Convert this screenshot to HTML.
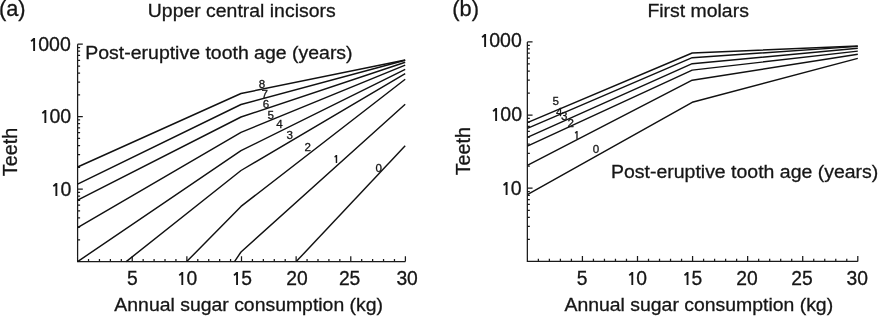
<!DOCTYPE html>
<html><head><meta charset="utf-8"><style>
html,body{margin:0;padding:0;background:#fff;overflow:hidden;width:878px;height:317px;}
svg{display:block;}
text{font-family:"Liberation Sans", Arial, Helvetica, sans-serif;}
</style></head><body>
<svg width="878" height="317" viewBox="0 0 878 317">
<rect width="878" height="317" fill="#fff"/>
<path d="M77.60,44.20V261.60H405.40 M88.53,261.60v-2.6 M99.45,261.60v-2.6 M110.38,261.60v-2.6 M121.31,261.60v-2.6 M132.23,261.60v-5.4 M143.16,261.60v-2.6 M154.09,261.60v-2.6 M165.01,261.60v-2.6 M175.94,261.60v-2.6 M186.87,261.60v-5.4 M197.79,261.60v-2.6 M208.72,261.60v-2.6 M219.65,261.60v-2.6 M230.57,261.60v-2.6 M241.50,261.60v-5.4 M252.43,261.60v-2.6 M263.35,261.60v-2.6 M274.28,261.60v-2.6 M285.21,261.60v-2.6 M296.13,261.60v-5.4 M307.06,261.60v-2.6 M317.99,261.60v-2.6 M328.91,261.60v-2.6 M339.84,261.60v-2.6 M350.77,261.60v-5.4 M361.69,261.60v-2.6 M372.62,261.60v-2.6 M383.55,261.60v-2.6 M394.47,261.60v-2.6 M405.40,261.60v-5.4 M77.60,239.79h2.5 M77.60,227.02h2.5 M77.60,217.97h2.5 M77.60,210.95h2.5 M77.60,205.21h2.5 M77.60,200.36h2.5 M77.60,196.16h2.5 M77.60,192.45h2.5 M77.60,189.13h5.2 M77.60,167.32h2.5 M77.60,154.56h2.5 M77.60,145.50h2.5 M77.60,138.48h2.5 M77.60,132.74h2.5 M77.60,127.89h2.5 M77.60,123.69h2.5 M77.60,119.98h2.5 M77.60,116.67h5.2 M77.60,94.85h2.5 M77.60,82.09h2.5 M77.60,73.04h2.5 M77.60,66.01h2.5 M77.60,60.28h2.5 M77.60,55.43h2.5 M77.60,51.22h2.5 M77.60,47.52h2.5 M77.60,44.20h5.2" stroke="#1a1a1a" stroke-width="1.25" fill="none"/>
<path d="M77.60,167.00 L241.00,93.50 L405.20,60.00" stroke="#111" stroke-width="1.45" fill="none" stroke-linejoin="round"/>
<path d="M77.60,184.20 L241.00,104.50 L405.20,60.30" stroke="#111" stroke-width="1.45" fill="none" stroke-linejoin="round"/>
<path d="M77.60,200.10 L241.00,117.00 L405.20,62.30" stroke="#111" stroke-width="1.45" fill="none" stroke-linejoin="round"/>
<path d="M77.60,227.70 L241.00,132.40 L405.20,65.20" stroke="#111" stroke-width="1.45" fill="none" stroke-linejoin="round"/>
<path d="M77.60,261.60 L241.00,150.70 L405.20,69.40" stroke="#111" stroke-width="1.45" fill="none" stroke-linejoin="round"/>
<path d="M126.20,261.60 L241.00,170.50 L405.20,73.60" stroke="#111" stroke-width="1.45" fill="none" stroke-linejoin="round"/>
<path d="M186.70,261.60 L241.00,206.40 L405.20,79.30" stroke="#111" stroke-width="1.45" fill="none" stroke-linejoin="round"/>
<path d="M234.50,261.60 L241.00,252.00 L405.20,104.30" stroke="#111" stroke-width="1.45" fill="none" stroke-linejoin="round"/>
<path d="M296.20,261.60 L405.20,145.70" stroke="#111" stroke-width="1.45" fill="none" stroke-linejoin="round"/>
<path d="M527.35,41.90V261.40H857.80 M538.37,261.40v-2.6 M549.38,261.40v-2.6 M560.39,261.40v-2.6 M571.41,261.40v-2.6 M582.42,261.40v-5.4 M593.44,261.40v-2.6 M604.46,261.40v-2.6 M615.47,261.40v-2.6 M626.49,261.40v-2.6 M637.50,261.40v-5.4 M648.51,261.40v-2.6 M659.53,261.40v-2.6 M670.54,261.40v-2.6 M681.56,261.40v-2.6 M692.58,261.40v-5.4 M703.59,261.40v-2.6 M714.61,261.40v-2.6 M725.62,261.40v-2.6 M736.63,261.40v-2.6 M747.65,261.40v-5.4 M758.66,261.40v-2.6 M769.68,261.40v-2.6 M780.69,261.40v-2.6 M791.71,261.40v-2.6 M802.72,261.40v-5.4 M813.74,261.40v-2.6 M824.75,261.40v-2.6 M835.77,261.40v-2.6 M846.78,261.40v-2.6 M857.80,261.40v-5.4 M527.35,239.37h2.5 M527.35,226.49h2.5 M527.35,217.35h2.5 M527.35,210.26h2.5 M527.35,204.47h2.5 M527.35,199.57h2.5 M527.35,195.32h2.5 M527.35,191.58h2.5 M527.35,188.23h5.2 M527.35,166.21h2.5 M527.35,153.32h2.5 M527.35,144.18h2.5 M527.35,137.09h2.5 M527.35,131.30h2.5 M527.35,126.40h2.5 M527.35,122.16h2.5 M527.35,118.41h2.5 M527.35,115.07h5.2 M527.35,93.04h2.5 M527.35,80.16h2.5 M527.35,71.02h2.5 M527.35,63.93h2.5 M527.35,58.13h2.5 M527.35,53.23h2.5 M527.35,48.99h2.5 M527.35,45.25h2.5 M527.35,41.90h5.2" stroke="#1a1a1a" stroke-width="1.25" fill="none"/>
<path d="M527.35,122.60 L692.20,53.00 L857.80,46.00" stroke="#111" stroke-width="1.45" fill="none" stroke-linejoin="round"/>
<path d="M527.35,128.30 L692.20,57.70 L857.80,46.40" stroke="#111" stroke-width="1.45" fill="none" stroke-linejoin="round"/>
<path d="M527.35,137.30 L692.20,63.70 L857.80,48.20" stroke="#111" stroke-width="1.45" fill="none" stroke-linejoin="round"/>
<path d="M527.35,146.20 L692.20,70.10 L857.80,51.10" stroke="#111" stroke-width="1.45" fill="none" stroke-linejoin="round"/>
<path d="M527.35,165.30 L692.20,80.20 L857.80,54.30" stroke="#111" stroke-width="1.45" fill="none" stroke-linejoin="round"/>
<path d="M527.35,194.60 L692.20,102.30 L857.80,58.40" stroke="#111" stroke-width="1.45" fill="none" stroke-linejoin="round"/>
<text transform="translate(-1.09,15.90) scale(1.0,1.0)" font-size="21.8" fill="#161616" stroke="#161616" stroke-width="0.3">(a)</text>
<text transform="translate(452.25,15.90) scale(1.0,1.0)" font-size="21.8" fill="#161616" stroke="#161616" stroke-width="0.3">(b)</text>
<text transform="translate(147.80,16.90) scale(1.01,1.0)" font-size="19.25" fill="#161616" stroke="#161616" stroke-width="0.3">Upper central incisors</text>
<text transform="translate(647.41,16.90) scale(1.01,1.0)" font-size="19.25" fill="#161616" stroke="#161616" stroke-width="0.3">First molars</text>
<text transform="translate(85.30,59.00) scale(1.053,1.0)" font-size="18.5" fill="#161616" stroke="#161616" stroke-width="0.3">Post-eruptive tooth age (years)</text>
<text transform="translate(611.00,177.80) scale(1.053,1.0)" font-size="18.5" fill="#161616" stroke="#161616" stroke-width="0.3">Post-eruptive tooth age (years)</text>
<text transform="translate(114.36,310.70) scale(1.022,1.0)" font-size="19.0" fill="#161616" stroke="#161616" stroke-width="0.3">Annual sugar consumption (kg)</text>
<text transform="translate(564.46,310.50) scale(1.022,1.0)" font-size="19.0" fill="#161616" stroke="#161616" stroke-width="0.3">Annual sugar consumption (kg)</text>
<text transform="translate(17.20,176.24) rotate(-90) scale(1.0,1)" font-size="19.8" fill="#161616" stroke="#161616" stroke-width="0.3">Teeth</text>
<text transform="translate(470.10,175.34) rotate(-90) scale(1.0,1)" font-size="19.8" fill="#161616" stroke="#161616" stroke-width="0.3">Teeth</text>
<text transform="translate(27.33,50.65) scale(1.0,1.0)" font-size="19.5" fill="#161616" stroke="#161616" stroke-width="0.3"><tspan font-family="NanumGothic, 'Liberation Sans', sans-serif" font-weight="bold" stroke-width="0.00" font-size="17.98" dx="0.88">1</tspan><tspan dx="-0.88">0</tspan>00</text>
<text transform="translate(38.58,123.45) scale(1.0,1.0)" font-size="19.5" fill="#161616" stroke="#161616" stroke-width="0.3"><tspan font-family="NanumGothic, 'Liberation Sans', sans-serif" font-weight="bold" stroke-width="0.00" font-size="17.98" dx="0.88">1</tspan><tspan dx="-0.88">0</tspan>0</text>
<text transform="translate(49.62,195.90) scale(1.0,1.0)" font-size="19.5" fill="#161616" stroke="#161616" stroke-width="0.3"><tspan font-family="NanumGothic, 'Liberation Sans', sans-serif" font-weight="bold" stroke-width="0.00" font-size="17.98" dx="0.88">1</tspan><tspan dx="-0.88">0</tspan></text>
<text transform="translate(478.33,46.75) scale(1.0,1.0)" font-size="19.5" fill="#161616" stroke="#161616" stroke-width="0.3"><tspan font-family="NanumGothic, 'Liberation Sans', sans-serif" font-weight="bold" stroke-width="0.00" font-size="17.98" dx="0.88">1</tspan><tspan dx="-0.88">0</tspan>00</text>
<text transform="translate(489.48,120.75) scale(1.0,1.0)" font-size="19.5" fill="#161616" stroke="#161616" stroke-width="0.3"><tspan font-family="NanumGothic, 'Liberation Sans', sans-serif" font-weight="bold" stroke-width="0.00" font-size="17.98" dx="0.88">1</tspan><tspan dx="-0.88">0</tspan>0</text>
<text transform="translate(499.92,194.80) scale(1.0,1.0)" font-size="19.5" fill="#161616" stroke="#161616" stroke-width="0.3"><tspan font-family="NanumGothic, 'Liberation Sans', sans-serif" font-weight="bold" stroke-width="0.00" font-size="17.98" dx="0.88">1</tspan><tspan dx="-0.88">0</tspan></text>
<text transform="translate(126.95,285.20) scale(1.0,1.0)" font-size="19.3" fill="#161616" stroke="#161616" stroke-width="0.3">5</text>
<text transform="translate(576.75,285.10) scale(1.0,1.0)" font-size="19.3" fill="#161616" stroke="#161616" stroke-width="0.3">5</text>
<text transform="translate(175.64,285.20) scale(1.0,1.0)" font-size="19.3" fill="#161616" stroke="#161616" stroke-width="0.3"><tspan font-family="NanumGothic, 'Liberation Sans', sans-serif" font-weight="bold" stroke-width="0.00" font-size="17.79" dx="0.87">1</tspan><tspan dx="-0.87">0</tspan></text>
<text transform="translate(625.54,285.10) scale(1.0,1.0)" font-size="19.3" fill="#161616" stroke="#161616" stroke-width="0.3"><tspan font-family="NanumGothic, 'Liberation Sans', sans-serif" font-weight="bold" stroke-width="0.00" font-size="17.79" dx="0.87">1</tspan><tspan dx="-0.87">0</tspan></text>
<text transform="translate(230.47,285.20) scale(1.0,1.0)" font-size="19.3" fill="#161616" stroke="#161616" stroke-width="0.3"><tspan font-family="NanumGothic, 'Liberation Sans', sans-serif" font-weight="bold" stroke-width="0.00" font-size="17.79" dx="0.87">1</tspan><tspan dx="-0.87">5</tspan></text>
<text transform="translate(680.77,285.10) scale(1.0,1.0)" font-size="19.3" fill="#161616" stroke="#161616" stroke-width="0.3"><tspan font-family="NanumGothic, 'Liberation Sans', sans-serif" font-weight="bold" stroke-width="0.00" font-size="17.79" dx="0.87">1</tspan><tspan dx="-0.87">5</tspan></text>
<text transform="translate(286.16,285.20) scale(1.0,1.0)" font-size="19.3" fill="#161616" stroke="#161616" stroke-width="0.3">20</text>
<text transform="translate(736.26,285.10) scale(1.0,1.0)" font-size="19.3" fill="#161616" stroke="#161616" stroke-width="0.3">20</text>
<text transform="translate(338.89,285.20) scale(1.0,1.0)" font-size="19.3" fill="#161616" stroke="#161616" stroke-width="0.3">25</text>
<text transform="translate(791.29,285.10) scale(1.0,1.0)" font-size="19.3" fill="#161616" stroke="#161616" stroke-width="0.3">25</text>
<text transform="translate(396.38,285.20) scale(1.0,1.0)" font-size="19.3" fill="#161616" stroke="#161616" stroke-width="0.3">30</text>
<text transform="translate(846.58,285.10) scale(1.0,1.0)" font-size="19.3" fill="#161616" stroke="#161616" stroke-width="0.3">30</text>
<text transform="translate(258.70,87.60) scale(1.0,1.0)" font-size="11.6" fill="#161616" stroke="#161616" stroke-width="0.3">8</text>
<text transform="translate(261.41,98.20) scale(1.0,1.0)" font-size="11.6" fill="#161616" stroke="#161616" stroke-width="0.3">7</text>
<text transform="translate(262.81,107.80) scale(1.0,1.0)" font-size="11.6" fill="#161616" stroke="#161616" stroke-width="0.3">6</text>
<text transform="translate(267.44,118.90) scale(1.0,1.0)" font-size="11.6" fill="#161616" stroke="#161616" stroke-width="0.3">5</text>
<text transform="translate(276.23,127.70) scale(1.0,1.0)" font-size="11.6" fill="#161616" stroke="#161616" stroke-width="0.3">4</text>
<text transform="translate(286.56,138.80) scale(1.0,1.0)" font-size="11.6" fill="#161616" stroke="#161616" stroke-width="0.3">3</text>
<text transform="translate(304.62,150.90) scale(1.0,1.0)" font-size="11.6" fill="#161616" stroke="#161616" stroke-width="0.3">2</text>
<text transform="translate(332.50,162.80) scale(1.0,1.0)" font-size="11.6" fill="#161616" stroke="#161616" stroke-width="0.3"><tspan font-family="NanumGothic, 'Liberation Sans', sans-serif" font-weight="bold" stroke-width="0.20" font-size="10.70" dx="0.52">1</tspan></text>
<text transform="translate(375.55,171.60) scale(1.0,1.0)" font-size="11.6" fill="#161616" stroke="#161616" stroke-width="0.3">0</text>
<text transform="translate(552.44,105.20) scale(1.0,1.0)" font-size="11.6" fill="#161616" stroke="#161616" stroke-width="0.3">5</text>
<text transform="translate(555.93,115.90) scale(1.0,1.0)" font-size="11.6" fill="#161616" stroke="#161616" stroke-width="0.3">4</text>
<text transform="translate(560.96,119.90) scale(1.0,1.0)" font-size="11.6" fill="#161616" stroke="#161616" stroke-width="0.3">3</text>
<text transform="translate(567.42,126.70) scale(1.0,1.0)" font-size="11.6" fill="#161616" stroke="#161616" stroke-width="0.3">2</text>
<text transform="translate(573.10,139.30) scale(1.0,1.0)" font-size="11.6" fill="#161616" stroke="#161616" stroke-width="0.3"><tspan font-family="NanumGothic, 'Liberation Sans', sans-serif" font-weight="bold" stroke-width="0.20" font-size="10.70" dx="0.52">1</tspan></text>
<text transform="translate(592.75,152.60) scale(1.0,1.0)" font-size="11.6" fill="#161616" stroke="#161616" stroke-width="0.3">0</text>
</svg>
</body></html>
